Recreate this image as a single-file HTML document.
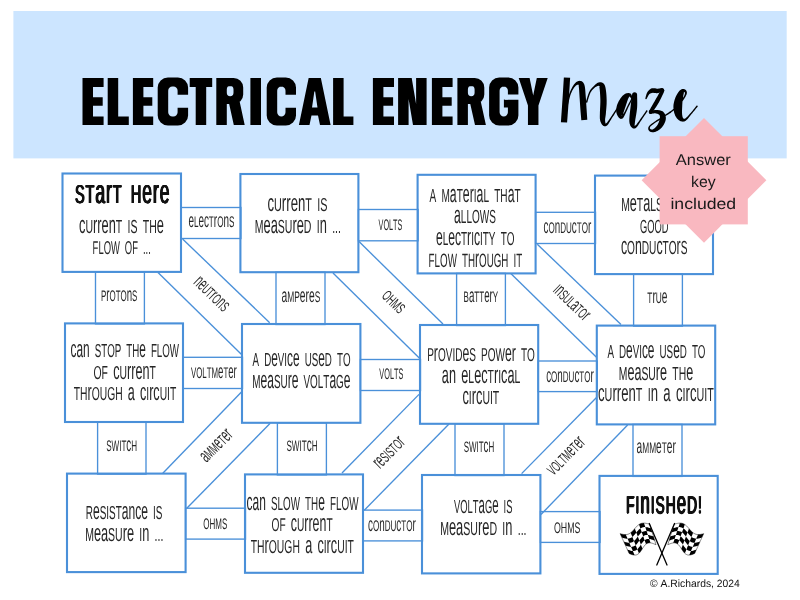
<!DOCTYPE html><html><head><meta charset="utf-8"><title>Electrical Energy Maze</title>
<style>html,body{margin:0;padding:0;background:#fff;}body{width:800px;height:600px;overflow:hidden;font-family:"Liberation Sans",sans-serif;}svg{display:block;font-family:"Liberation Sans",sans-serif;font-kerning:none;}text{font-kerning:none;white-space:pre;text-rendering:geometricPrecision;}</style></head><body>
<svg width="800" height="600" viewBox="0 0 800 600">
<rect x="0" y="0" width="800" height="600" fill="#fff"/>
<rect x="13.4" y="11" width="773.3" height="147.4" fill="#cce5ff"/>
<path fill="#000" d="M82.50,78.00 L103.60,78.00 L103.60,87.00 L93.00,87.00 L93.00,97.30 L102.70,97.30 L102.70,105.70 L93.00,105.70 L93.00,116.40 L103.60,116.40 L103.60,125.00 L82.50,125.00Z M107.70,78.00 L118.20,78.00 L118.20,116.40 L128.80,116.40 L128.80,125.00 L107.70,125.00Z M132.90,78.00 L153.20,78.00 L153.20,87.00 L143.40,87.00 L143.40,97.30 L152.30,97.30 L152.30,105.70 L143.40,105.70 L143.40,116.40 L153.20,116.40 L153.20,125.00 L132.90,125.00Z M167.90,77.40 H177.90 A10.2,10.2 0 0 1 188.10,87.60 V115.40 A10.2,10.2 0 0 1 177.90,125.60 H167.90 A10.2,10.2 0 0 1 157.70,115.40 V87.60 A10.2,10.2 0 0 1 167.90,77.40Z M172.40,86.60 A4.2,4.2 0 0 0 168.20,90.80 V112.20 A4.2,4.2 0 0 0 172.40,116.40 H173.40 A4.2,4.2 0 0 0 177.60,112.20 V90.80 A4.2,4.2 0 0 0 173.40,86.60Z M189.70,78.00 L212.20,78.00 L212.20,87.00 L206.20,87.00 L206.20,125.00 L195.70,125.00 L195.70,87.00 L189.70,87.00Z M216.30,78.00 H233.70 A9.5,9.5 0 0 1 243.20,87.50 V94.50 A9.5,9.5 0 0 1 233.70,104.00 H226.80 V125.00 H216.30Z M228.50,101.00 L239.10,99.00 L244.70,125.00 L233.80,125.00Z M250.40,78.00 L261.00,78.00 L261.00,125.00 L250.40,125.00Z M276.90,77.40 H285.80 A10.2,10.2 0 0 1 296.00,87.60 V115.40 A10.2,10.2 0 0 1 285.80,125.60 H276.90 A10.2,10.2 0 0 1 266.70,115.40 V87.60 A10.2,10.2 0 0 1 276.90,77.40Z M281.40,86.60 A4.2,4.2 0 0 0 277.20,90.80 V112.20 A4.2,4.2 0 0 0 281.40,116.40 H281.30 A4.2,4.2 0 0 0 285.50,112.20 V90.80 A4.2,4.2 0 0 0 281.30,86.60Z M298.90,125.00 L308.65,78.00 L320.85,78.00 L330.60,125.00 L320.00,125.00 L318.01,115.40 L311.49,115.40 L309.50,125.00Z M333.10,78.00 L343.60,78.00 L343.60,116.40 L353.40,116.40 L353.40,125.00 L333.10,125.00Z M372.90,78.00 L394.00,78.00 L394.00,87.00 L383.40,87.00 L383.40,97.30 L393.10,97.30 L393.10,105.70 L383.40,105.70 L383.40,116.40 L394.00,116.40 L394.00,125.00 L372.90,125.00Z M398.10,78.00 L411.70,78.00 L416.10,104.00 L416.10,78.00 L426.60,78.00 L426.60,125.00 L413.00,125.00 L408.60,99.00 L408.60,125.00 L398.10,125.00Z M431.90,78.00 L452.60,78.00 L452.60,87.00 L442.40,87.00 L442.40,97.30 L451.70,97.30 L451.70,105.70 L442.40,105.70 L442.40,116.40 L452.60,116.40 L452.60,125.00 L431.90,125.00Z M457.40,78.00 H474.80 A9.5,9.5 0 0 1 484.30,87.50 V94.50 A9.5,9.5 0 0 1 474.80,104.00 H467.90 V125.00 H457.40Z M469.60,101.00 L480.20,99.00 L485.90,125.00 L475.00,125.00Z M499.30,77.40 H508.20 A10.2,10.2 0 0 1 518.40,87.60 V115.40 A10.2,10.2 0 0 1 508.20,125.60 H499.30 A10.2,10.2 0 0 1 489.10,115.40 V87.60 A10.2,10.2 0 0 1 499.30,77.40Z M503.80,86.60 A4.2,4.2 0 0 0 499.60,90.80 V112.20 A4.2,4.2 0 0 0 503.80,116.40 H503.70 A4.2,4.2 0 0 0 507.90,112.20 V90.80 A4.2,4.2 0 0 0 503.70,86.60Z M503.90,99.40 L518.40,99.40 L518.40,107.40 L503.90,107.40Z M518.70,78.00 L529.60,78.00 L533.20,95.50 L536.80,78.00 L547.70,78.00 L538.45,105.50 L538.45,125.00 L527.95,125.00 L527.95,105.50Z"/>
<path fill="#cce5ff" d="M173.90,94.80 L189.10,94.80 L189.10,107.80 L173.90,107.80Z M230.20,86.00 H230.10 A3.4,3.4 0 0 1 233.50,89.40 V92.80 A3.4,3.4 0 0 1 230.10,96.20 H230.20 A3.4,3.4 0 0 1 226.80,92.80 V89.40 A3.4,3.4 0 0 1 230.20,86.00Z M282.35,94.80 L297.00,94.80 L297.00,107.80 L282.35,107.80Z M312.02,107.60 L314.35,91.50 L315.15,91.50 L317.48,107.60Z M471.30,86.00 H471.20 A3.4,3.4 0 0 1 474.60,89.40 V92.80 A3.4,3.4 0 0 1 471.20,96.20 H471.30 A3.4,3.4 0 0 1 467.90,92.80 V89.40 A3.4,3.4 0 0 1 471.30,86.00Z M504.75,94.60 L519.40,94.60 L519.40,99.80 L504.75,99.80Z"/>
<path fill="#000" d="M563.86,77.41 L563.77,78.74 L563.67,80.45 L563.54,82.48 L563.40,84.75 L563.25,87.21 L563.09,89.77 L562.93,92.38 L562.77,94.96 L562.61,97.45 L562.46,99.79 L562.30,102.12 L562.13,104.62 L561.96,107.20 L561.77,109.81 L561.60,112.37 L561.42,114.83 L561.26,117.10 L561.12,119.13 L561.00,120.84 L560.91,122.18 L567.09,122.62 L567.19,121.29 L567.32,119.58 L567.47,117.55 L567.64,115.28 L567.83,112.83 L568.02,110.26 L568.21,107.65 L568.40,105.06 L568.58,102.56 L568.74,100.21 L568.90,97.86 L569.06,95.36 L569.23,92.77 L569.39,90.16 L569.55,87.59 L569.70,85.14 L569.83,82.87 L569.96,80.84 L570.06,79.13 L570.14,77.79Z"/>
<path fill="#000" d="M567.93,105.17 L568.09,104.50 L568.28,103.62 L568.51,102.58 L568.77,101.42 L569.05,100.18 L569.35,98.90 L569.67,97.63 L570.01,96.40 L570.35,95.26 L570.71,94.26 L571.08,93.33 L571.47,92.40 L571.89,91.50 L572.33,90.62 L572.78,89.78 L573.24,88.98 L573.71,88.23 L574.17,87.55 L574.64,86.94 L575.09,86.41 L575.54,85.97 L575.99,85.60 L576.44,85.29 L576.88,85.04 L577.30,84.86 L577.70,84.74 L578.05,84.68 L578.35,84.67 L578.57,84.72 L578.74,84.80 L578.88,84.89 L578.98,85.01 L578.98,85.12 L578.91,85.21 L578.80,85.27 L578.70,85.33 L578.64,85.42 L578.63,85.58 L578.66,85.85 L578.72,86.23 L578.80,86.75 L578.88,87.45 L578.97,88.31 L579.05,89.28 L579.13,90.35 L579.20,91.49 L579.28,92.67 L579.35,93.87 L579.43,95.07 L579.51,96.24 L579.59,97.38 L579.67,98.53 L579.75,99.71 L579.82,100.90 L579.90,102.11 L579.98,103.33 L580.05,104.56 L580.14,105.78 L580.22,107.00 L580.31,108.22 L580.40,109.47 L580.51,110.81 L580.63,112.18 L580.74,113.57 L580.86,114.93 L580.97,116.23 L581.08,117.44 L581.17,118.51 L581.25,119.42 L581.31,120.13 L587.29,119.67 L587.24,118.96 L587.18,118.05 L587.11,116.98 L587.03,115.77 L586.94,114.47 L586.85,113.11 L586.76,111.72 L586.66,110.35 L586.58,109.02 L586.49,107.78 L586.42,106.59 L586.34,105.39 L586.27,104.17 L586.20,102.95 L586.13,101.73 L586.05,100.51 L585.97,99.29 L585.88,98.09 L585.79,96.91 L585.69,95.76 L585.59,94.62 L585.51,93.45 L585.42,92.26 L585.33,91.05 L585.23,89.86 L585.12,88.70 L584.97,87.58 L584.80,86.51 L584.57,85.50 L584.28,84.57 L583.92,83.74 L583.49,83.01 L582.98,82.35 L582.38,81.79 L581.70,81.34 L580.98,81.03 L580.28,80.88 L579.62,80.84 L579.03,80.90 L578.46,81.00 L577.88,81.18 L577.31,81.43 L576.78,81.74 L576.26,82.10 L575.77,82.51 L575.29,82.96 L574.83,83.45 L574.38,83.99 L573.94,84.57 L573.51,85.19 L573.09,85.85 L572.66,86.56 L572.22,87.33 L571.77,88.15 L571.33,89.01 L570.89,89.91 L570.47,90.84 L570.05,91.79 L569.66,92.76 L569.29,93.74 L568.94,94.81 L568.59,96.00 L568.25,97.26 L567.93,98.55 L567.62,99.85 L567.33,101.09 L567.06,102.26 L566.83,103.30 L566.63,104.16 L566.47,104.83Z"/><circle cx="567.20" cy="105.00" r="0.75" fill="#000"/>
<path fill="#000" d="M587.31,102.23 L587.51,101.61 L587.75,100.78 L588.03,99.81 L588.35,98.73 L588.69,97.58 L589.06,96.40 L589.45,95.25 L589.85,94.16 L590.26,93.17 L590.66,92.35 L591.09,91.63 L591.54,90.95 L592.03,90.31 L592.53,89.71 L593.04,89.15 L593.57,88.64 L594.09,88.16 L594.62,87.72 L595.14,87.33 L595.63,86.97 L596.12,86.67 L596.59,86.41 L597.06,86.20 L597.51,86.04 L597.93,85.93 L598.31,85.87 L598.65,85.87 L598.91,85.91 L599.10,85.99 L599.27,86.10 L599.51,86.22 L599.72,86.36 L599.79,86.49 L599.74,86.58 L599.60,86.63 L599.46,86.65 L599.38,86.71 L599.37,86.88 L599.41,87.21 L599.49,87.72 L599.59,88.45 L599.71,89.40 L599.82,90.52 L599.93,91.78 L600.03,93.13 L600.12,94.53 L600.20,95.96 L600.27,97.38 L600.32,98.77 L600.35,100.06 L600.36,101.32 L600.34,102.62 L600.30,103.96 L600.24,105.32 L600.18,106.68 L600.11,108.02 L600.04,109.33 L599.98,110.58 L599.93,111.77 L599.90,112.84 L599.89,113.77 L599.87,114.61 L599.85,115.39 L599.83,116.12 L599.82,116.82 L599.83,117.52 L599.85,118.20 L599.90,118.89 L599.99,119.60 L600.12,120.30 L600.29,120.98 L600.50,121.64 L600.74,122.27 L601.01,122.87 L601.30,123.43 L601.62,123.95 L601.95,124.44 L602.32,124.88 L602.71,125.29 L603.15,125.65 L603.64,125.94 L604.16,126.14 L604.71,126.24 L605.24,126.24 L605.75,126.14 L606.21,125.97 L606.63,125.75 L607.02,125.48 L607.38,125.17 L607.73,124.82 L608.07,124.44 L608.38,124.01 L608.68,123.56 L608.97,123.08 L609.27,122.57 L609.58,122.02 L609.92,121.43 L610.28,120.80 L610.68,120.13 L611.13,119.41 L611.66,118.58 L612.28,117.60 L612.98,116.52 L613.71,115.38 L614.46,114.22 L615.19,113.09 L615.87,112.03 L616.49,111.08 L617.00,110.28 L617.39,109.68 L616.21,108.92 L615.82,109.52 L615.31,110.31 L614.70,111.26 L614.01,112.33 L613.28,113.46 L612.53,114.61 L611.79,115.74 L611.08,116.81 L610.43,117.77 L609.87,118.59 L609.39,119.29 L608.94,119.95 L608.52,120.55 L608.14,121.10 L607.78,121.59 L607.44,122.03 L607.13,122.41 L606.83,122.73 L606.54,122.98 L606.27,123.18 L606.01,123.33 L605.77,123.43 L605.57,123.47 L605.42,123.47 L605.33,123.43 L605.30,123.37 L605.32,123.31 L605.37,123.26 L605.41,123.21 L605.45,123.15 L605.45,123.04 L605.41,122.85 L605.35,122.59 L605.29,122.27 L605.22,121.90 L605.17,121.49 L605.12,121.05 L605.09,120.60 L605.08,120.15 L605.08,119.70 L605.11,119.27 L605.15,118.83 L605.22,118.36 L605.30,117.84 L605.39,117.25 L605.49,116.59 L605.60,115.86 L605.71,115.04 L605.81,114.14 L605.90,113.16 L605.98,112.12 L606.08,110.99 L606.19,109.75 L606.30,108.44 L606.41,107.07 L606.51,105.66 L606.59,104.22 L606.64,102.77 L606.66,101.34 L606.65,99.94 L606.60,98.54 L606.54,97.09 L606.45,95.60 L606.34,94.09 L606.20,92.60 L606.05,91.15 L605.86,89.78 L605.65,88.49 L605.40,87.32 L605.11,86.28 L604.76,85.36 L604.34,84.54 L603.82,83.81 L603.21,83.18 L602.50,82.70 L601.76,82.39 L601.07,82.24 L600.49,82.22 L600.01,82.26 L599.53,82.30 L598.95,82.39 L598.34,82.55 L597.77,82.79 L597.24,83.07 L596.73,83.39 L596.24,83.75 L595.76,84.14 L595.29,84.55 L594.83,84.98 L594.37,85.43 L593.90,85.89 L593.41,86.38 L592.89,86.90 L592.37,87.45 L591.83,88.05 L591.30,88.68 L590.78,89.35 L590.27,90.07 L589.79,90.84 L589.34,91.65 L588.90,92.58 L588.48,93.63 L588.06,94.76 L587.67,95.95 L587.29,97.15 L586.93,98.31 L586.61,99.39 L586.32,100.36 L586.08,101.17 L585.89,101.77Z"/><circle cx="586.60" cy="102.00" r="0.75" fill="#000"/><circle cx="616.80" cy="109.30" r="0.70" fill="#000"/>
<path fill="#000" d="M632.60,98.04 L632.53,97.81 L632.44,97.48 L632.33,97.05 L632.19,96.56 L632.02,96.02 L631.82,95.47 L631.58,94.90 L631.24,94.34 L630.73,93.78 L630.00,93.35 L629.26,93.15 L628.60,93.06 L627.92,93.07 L627.24,93.16 L626.56,93.32 L625.87,93.56 L625.19,93.86 L624.51,94.25 L623.85,94.70 L623.20,95.24 L622.57,95.86 L621.95,96.54 L621.35,97.27 L620.77,98.05 L620.20,98.85 L619.66,99.68 L619.16,100.52 L618.68,101.35 L618.26,102.17 L617.89,102.97 L617.56,103.75 L617.26,104.54 L616.99,105.36 L616.75,106.19 L616.55,107.03 L616.38,107.88 L616.26,108.73 L616.19,109.59 L616.17,110.46 L616.20,111.33 L616.32,112.21 L616.51,113.07 L616.77,113.91 L617.08,114.71 L617.44,115.47 L617.82,116.17 L618.24,116.82 L618.69,117.42 L619.22,118.00 L619.93,118.54 L620.84,118.88 L621.74,118.85 L622.45,118.56 L622.94,118.16 L623.29,117.73 L623.59,117.28 L623.87,116.79 L624.15,116.27 L624.45,115.70 L624.77,115.07 L625.13,114.34 L625.53,113.49 L625.97,112.55 L626.43,111.54 L626.91,110.48 L627.40,109.41 L627.89,108.35 L628.36,107.33 L628.81,106.37 L629.23,105.51 L629.63,104.70 L630.05,103.88 L630.47,103.07 L630.89,102.29 L631.29,101.54 L631.68,100.83 L632.03,100.19 L632.34,99.61 L632.61,99.12 L632.82,98.73 L631.58,98.07 L631.37,98.46 L631.11,98.95 L630.81,99.53 L630.46,100.18 L630.08,100.89 L629.68,101.64 L629.26,102.43 L628.83,103.25 L628.40,104.07 L627.97,104.89 L627.54,105.76 L627.07,106.72 L626.59,107.75 L626.09,108.80 L625.59,109.87 L625.09,110.90 L624.59,111.87 L624.11,112.76 L623.66,113.52 L623.23,114.13 L622.83,114.62 L622.44,115.04 L622.08,115.37 L621.76,115.61 L621.48,115.73 L621.30,115.73 L621.28,115.60 L621.52,115.42 L621.97,115.34 L622.47,115.46 L622.78,115.56 L622.93,115.44 L623.02,115.14 L623.10,114.71 L623.19,114.21 L623.29,113.67 L623.41,113.11 L623.53,112.57 L623.66,112.08 L623.80,111.67 L623.93,111.27 L624.08,110.81 L624.25,110.31 L624.43,109.77 L624.63,109.20 L624.83,108.60 L625.05,107.98 L625.26,107.34 L625.49,106.69 L625.71,106.03 L625.94,105.34 L626.17,104.60 L626.42,103.82 L626.67,103.03 L626.92,102.25 L627.17,101.49 L627.41,100.78 L627.64,100.13 L627.84,99.59 L628.00,99.16 L628.15,98.79 L628.32,98.44 L628.49,98.11 L628.65,97.81 L628.82,97.54 L628.97,97.30 L629.10,97.10 L629.20,96.94 L629.26,96.80 L629.20,96.65 L629.10,96.48 L629.20,96.42 L629.45,96.53 L629.76,96.77 L630.08,97.10 L630.39,97.48 L630.69,97.86 L630.96,98.22 L631.20,98.54 L631.40,98.76Z"/><circle cx="632.00" cy="98.40" r="0.70" fill="#000"/><circle cx="632.20" cy="98.40" r="0.70" fill="#000"/>
<path fill="#000" d="M632.10,94.65 L632.01,95.41 L631.88,96.37 L631.73,97.51 L631.56,98.77 L631.38,100.14 L631.19,101.57 L631.01,103.03 L630.83,104.48 L630.66,105.88 L630.51,107.19 L630.37,108.49 L630.21,109.87 L630.04,111.31 L629.86,112.78 L629.70,114.27 L629.55,115.73 L629.43,117.14 L629.34,118.49 L629.29,119.75 L629.30,120.89 L629.37,121.90 L629.49,122.80 L629.65,123.63 L629.86,124.37 L630.11,125.04 L630.39,125.65 L630.70,126.19 L631.04,126.67 L631.38,127.08 L631.74,127.46 L632.17,127.83 L632.67,128.16 L633.22,128.39 L633.80,128.51 L634.38,128.50 L634.92,128.39 L635.42,128.20 L635.88,127.93 L636.30,127.62 L636.71,127.24 L637.10,126.81 L637.48,126.32 L637.85,125.79 L638.22,125.21 L638.60,124.60 L638.99,123.94 L639.41,123.25 L639.85,122.54 L640.31,121.79 L640.82,121.03 L641.39,120.17 L642.06,119.18 L642.80,118.10 L643.57,116.97 L644.34,115.83 L645.10,114.73 L645.81,113.69 L646.44,112.76 L646.98,111.98 L647.38,111.40 L646.22,110.60 L645.82,111.19 L645.28,111.97 L644.65,112.90 L643.94,113.93 L643.18,115.04 L642.40,116.17 L641.63,117.29 L640.88,118.36 L640.19,119.33 L639.58,120.17 L639.04,120.93 L638.52,121.66 L638.03,122.35 L637.57,123.00 L637.13,123.60 L636.71,124.15 L636.32,124.63 L635.94,125.03 L635.60,125.34 L635.29,125.56 L635.01,125.70 L634.77,125.78 L634.58,125.80 L634.47,125.76 L634.42,125.70 L634.45,125.63 L634.51,125.57 L634.58,125.52 L634.63,125.46 L634.66,125.34 L634.65,125.15 L634.65,124.92 L634.67,124.67 L634.70,124.39 L634.74,124.04 L634.79,123.63 L634.85,123.15 L634.92,122.57 L635.00,121.88 L635.10,121.11 L635.22,120.20 L635.39,119.12 L635.60,117.90 L635.83,116.56 L636.08,115.15 L636.32,113.68 L636.56,112.18 L636.77,110.69 L636.95,109.22 L637.09,107.81 L637.17,106.40 L637.22,104.93 L637.24,103.43 L637.24,101.93 L637.22,100.47 L637.19,99.08 L637.16,97.80 L637.13,96.65 L637.11,95.69 L637.10,94.95Z"/><circle cx="634.60" cy="94.80" r="2.50" fill="#000"/><circle cx="646.80" cy="111.00" r="0.70" fill="#000"/>
<path fill="#000" d="M646.65,98.86 L646.83,98.53 L647.04,98.09 L647.29,97.58 L647.57,97.02 L647.88,96.42 L648.20,95.83 L648.53,95.27 L648.87,94.76 L649.20,94.35 L649.51,94.05 L649.83,93.81 L650.18,93.59 L650.54,93.41 L650.90,93.26 L651.26,93.14 L651.61,93.05 L651.96,92.97 L652.30,92.92 L652.63,92.87 L652.91,92.84 L653.11,92.84 L653.36,92.85 L653.69,92.88 L654.11,92.92 L654.60,92.98 L655.15,93.05 L655.75,93.11 L656.40,93.15 L657.09,93.15 L657.80,93.09 L658.47,92.96 L659.10,92.79 L659.71,92.58 L660.28,92.35 L660.82,92.12 L661.33,91.89 L661.78,91.67 L662.16,91.48 L662.47,91.33 L662.71,91.22 L661.69,87.98 L661.39,88.04 L661.00,88.13 L660.58,88.22 L660.11,88.32 L659.63,88.42 L659.13,88.51 L658.63,88.59 L658.16,88.66 L657.74,88.70 L657.40,88.71 L657.11,88.69 L656.76,88.64 L656.34,88.56 L655.86,88.47 L655.32,88.36 L654.73,88.26 L654.09,88.18 L653.39,88.15 L652.64,88.20 L651.89,88.36 L651.26,88.59 L650.70,88.86 L650.16,89.18 L649.66,89.55 L649.19,89.95 L648.76,90.38 L648.35,90.84 L647.98,91.32 L647.63,91.81 L647.29,92.35 L646.97,92.95 L646.69,93.61 L646.44,94.30 L646.22,95.00 L646.02,95.70 L645.85,96.37 L645.69,97.00 L645.56,97.55 L645.44,98.00 L645.35,98.34Z"/><circle cx="646.00" cy="98.60" r="0.70" fill="#000"/><circle cx="662.20" cy="89.60" r="1.70" fill="#000"/>
<path fill="#000" d="M661.00,89.78 L660.64,90.42 L660.19,91.24 L659.66,92.20 L659.06,93.28 L658.42,94.44 L657.75,95.66 L657.07,96.88 L656.39,98.10 L655.74,99.26 L655.13,100.34 L654.52,101.42 L653.85,102.58 L653.16,103.79 L652.45,105.01 L651.76,106.22 L651.09,107.37 L650.47,108.44 L649.91,109.40 L649.44,110.21 L649.07,110.85 L652.13,112.75 L652.53,112.15 L653.05,111.38 L653.68,110.47 L654.39,109.45 L655.14,108.33 L655.93,107.17 L656.72,105.97 L657.49,104.76 L658.21,103.59 L658.87,102.46 L659.50,101.31 L660.13,100.09 L660.76,98.81 L661.38,97.52 L661.98,96.26 L662.54,95.04 L663.06,93.91 L663.51,92.91 L663.90,92.07 L664.20,91.42Z"/><circle cx="662.60" cy="90.60" r="1.80" fill="#000"/><circle cx="650.60" cy="111.80" r="1.80" fill="#000"/>
<path fill="#000" d="M650.64,113.88 L651.00,113.83 L651.46,113.75 L651.98,113.66 L652.54,113.55 L653.13,113.46 L653.73,113.38 L654.33,113.32 L654.90,113.30 L655.40,113.32 L655.85,113.39 L656.33,113.51 L656.86,113.66 L657.38,113.84 L657.88,114.04 L658.35,114.26 L658.77,114.50 L659.11,114.74 L659.37,114.97 L659.52,115.17 L659.59,115.33 L659.66,115.51 L659.74,115.76 L659.80,116.04 L659.86,116.35 L659.90,116.69 L659.92,117.04 L659.92,117.42 L659.91,117.80 L659.88,118.18 L659.83,118.57 L659.76,119.00 L659.64,119.54 L659.48,120.15 L659.28,120.81 L659.05,121.50 L658.79,122.20 L658.50,122.89 L658.21,123.54 L657.90,124.15 L657.61,124.69 L657.30,125.19 L656.94,125.71 L656.52,126.24 L656.08,126.76 L655.61,127.26 L655.13,127.74 L654.66,128.17 L654.21,128.55 L653.79,128.87 L653.44,129.10 L653.14,129.26 L652.84,129.38 L652.51,129.45 L652.17,129.49 L651.83,129.48 L651.50,129.45 L651.19,129.38 L650.91,129.31 L650.68,129.22 L650.51,129.16 L650.38,129.10 L650.25,129.00 L650.13,128.86 L650.01,128.68 L649.92,128.47 L649.86,128.23 L649.83,127.97 L649.84,127.70 L649.90,127.42 L650.01,127.15 L650.18,126.86 L650.42,126.55 L650.72,126.23 L651.08,125.90 L651.49,125.56 L651.95,125.20 L652.46,124.83 L653.01,124.43 L653.59,124.01 L654.21,123.57 L654.87,123.10 L655.59,122.60 L656.37,122.07 L657.20,121.53 L658.06,120.98 L658.93,120.41 L659.81,119.84 L660.69,119.28 L661.55,118.73 L662.38,118.19 L663.23,117.63 L664.12,117.05 L665.05,116.45 L665.98,115.84 L666.89,115.25 L667.77,114.68 L668.58,114.16 L669.30,113.69 L669.91,113.30 L670.38,112.99 L669.62,111.81 L669.14,112.12 L668.53,112.52 L667.81,112.98 L667.00,113.51 L666.13,114.08 L665.22,114.67 L664.29,115.27 L663.36,115.88 L662.46,116.46 L661.62,117.01 L660.79,117.55 L659.93,118.10 L659.06,118.67 L658.17,119.23 L657.29,119.80 L656.43,120.36 L655.60,120.91 L654.81,121.44 L654.07,121.95 L653.39,122.43 L652.77,122.88 L652.19,123.31 L651.64,123.73 L651.12,124.12 L650.64,124.51 L650.19,124.90 L649.78,125.28 L649.41,125.66 L649.08,126.05 L648.79,126.45 L648.56,126.89 L648.38,127.34 L648.26,127.80 L648.21,128.27 L648.20,128.73 L648.26,129.19 L648.37,129.64 L648.55,130.07 L648.79,130.48 L649.09,130.84 L649.44,131.15 L649.84,131.43 L650.29,131.67 L650.78,131.89 L651.32,132.07 L651.90,132.20 L652.52,132.29 L653.18,132.30 L653.87,132.24 L654.56,132.10 L655.24,131.88 L655.93,131.62 L656.64,131.30 L657.37,130.93 L658.11,130.51 L658.85,130.04 L659.58,129.53 L660.29,128.97 L660.96,128.37 L661.59,127.71 L662.17,127.02 L662.73,126.28 L663.26,125.49 L663.76,124.67 L664.23,123.82 L664.65,122.95 L665.03,122.08 L665.35,121.20 L665.60,120.31 L665.77,119.43 L665.85,118.56 L665.85,117.70 L665.76,116.86 L665.61,116.04 L665.38,115.25 L665.08,114.49 L664.71,113.77 L664.28,113.10 L663.79,112.47 L663.21,111.87 L662.52,111.35 L661.79,110.94 L661.05,110.64 L660.31,110.43 L659.57,110.28 L658.85,110.17 L658.14,110.10 L657.46,110.06 L656.80,110.03 L656.15,110.01 L655.44,110.01 L654.71,110.07 L653.99,110.16 L653.28,110.28 L652.60,110.40 L651.96,110.54 L651.37,110.66 L650.87,110.77 L650.47,110.86 L650.16,110.92Z"/><circle cx="650.40" cy="112.40" r="1.50" fill="#000"/><circle cx="670.00" cy="112.40" r="0.70" fill="#000"/>
<path fill="#000" d="M670.45,113.04 L670.94,112.63 L671.59,112.10 L672.38,111.48 L673.25,110.77 L674.19,110.01 L675.16,109.21 L676.13,108.38 L677.06,107.56 L677.93,106.75 L678.71,105.98 L679.41,105.22 L680.08,104.44 L680.74,103.64 L681.36,102.83 L681.96,102.03 L682.52,101.24 L683.06,100.47 L683.56,99.74 L684.02,99.04 L684.44,98.40 L684.82,97.79 L685.17,97.21 L685.49,96.65 L685.78,96.12 L686.04,95.61 L686.26,95.12 L686.45,94.65 L686.62,94.19 L686.75,93.74 L686.85,93.29 L686.90,92.82 L686.88,92.34 L686.81,91.89 L686.68,91.45 L686.51,91.05 L686.30,90.68 L686.06,90.33 L685.77,90.01 L685.45,89.73 L685.08,89.49 L684.71,89.30 L684.31,89.15 L683.87,89.04 L683.38,88.98 L682.85,88.98 L682.28,89.07 L681.69,89.24 L681.10,89.52 L680.53,89.89 L679.99,90.35 L679.51,90.83 L679.04,91.36 L678.57,91.93 L678.11,92.54 L677.66,93.20 L677.21,93.91 L676.78,94.64 L676.37,95.41 L675.99,96.20 L675.64,97.00 L675.31,97.82 L675.00,98.68 L674.70,99.57 L674.42,100.49 L674.16,101.44 L673.93,102.41 L673.73,103.39 L673.57,104.37 L673.46,105.36 L673.40,106.33 L673.40,107.29 L673.44,108.25 L673.53,109.21 L673.66,110.16 L673.83,111.09 L674.03,112.01 L674.26,112.90 L674.53,113.76 L674.82,114.59 L675.14,115.38 L675.49,116.13 L675.89,116.85 L676.32,117.52 L676.79,118.15 L677.28,118.74 L677.80,119.28 L678.33,119.77 L678.89,120.22 L679.47,120.61 L680.04,120.93 L680.59,121.17 L681.13,121.36 L681.71,121.52 L682.32,121.62 L682.95,121.65 L683.58,121.60 L684.21,121.46 L684.82,121.23 L685.40,120.93 L685.97,120.54 L686.53,120.07 L687.10,119.51 L687.66,118.90 L688.23,118.23 L688.81,117.52 L689.40,116.78 L689.99,116.03 L690.58,115.28 L691.16,114.55 L691.73,113.86 L692.33,113.14 L692.97,112.36 L693.64,111.54 L694.32,110.71 L694.99,109.89 L695.63,109.10 L696.22,108.37 L696.75,107.71 L697.20,107.16 L697.54,106.74 L696.46,105.86 L696.11,106.29 L695.67,106.85 L695.15,107.51 L694.57,108.25 L693.94,109.04 L693.28,109.86 L692.60,110.69 L691.93,111.49 L691.28,112.25 L690.67,112.94 L690.06,113.62 L689.44,114.33 L688.81,115.04 L688.19,115.75 L687.56,116.42 L686.95,117.05 L686.36,117.61 L685.79,118.08 L685.28,118.43 L684.83,118.66 L684.44,118.77 L684.11,118.79 L683.85,118.75 L683.64,118.65 L683.48,118.52 L683.33,118.37 L683.20,118.18 L683.06,117.97 L682.90,117.73 L682.76,117.47 L682.66,117.21 L682.57,116.92 L682.48,116.59 L682.40,116.21 L682.32,115.80 L682.25,115.35 L682.19,114.89 L682.14,114.41 L682.10,113.92 L682.06,113.42 L682.04,112.89 L682.03,112.30 L682.03,111.65 L682.03,110.97 L682.05,110.27 L682.07,109.54 L682.10,108.81 L682.13,108.08 L682.17,107.36 L682.20,106.67 L682.23,105.97 L682.26,105.23 L682.30,104.46 L682.35,103.66 L682.40,102.85 L682.46,102.03 L682.53,101.23 L682.60,100.45 L682.68,99.70 L682.76,99.00 L682.85,98.33 L682.94,97.65 L683.05,96.97 L683.16,96.30 L683.28,95.66 L683.40,95.05 L683.52,94.49 L683.64,93.99 L683.74,93.56 L683.81,93.25 L683.83,93.05 L683.82,92.91 L683.81,92.78 L683.81,92.66 L683.82,92.54 L683.86,92.44 L683.91,92.34 L683.98,92.25 L684.06,92.18 L684.12,92.11 L684.16,92.06 L684.23,92.04 L684.34,92.06 L684.47,92.12 L684.59,92.22 L684.70,92.35 L684.80,92.51 L684.88,92.68 L684.93,92.88 L684.95,93.11 L684.94,93.40 L684.89,93.74 L684.81,94.11 L684.68,94.51 L684.53,94.95 L684.33,95.42 L684.09,95.92 L683.82,96.45 L683.51,97.01 L683.16,97.60 L682.77,98.24 L682.34,98.94 L681.86,99.66 L681.35,100.42 L680.80,101.19 L680.23,101.98 L679.63,102.76 L679.00,103.54 L678.36,104.29 L677.69,105.02 L676.96,105.75 L676.13,106.53 L675.22,107.33 L674.27,108.14 L673.31,108.93 L672.38,109.69 L671.50,110.39 L670.72,111.01 L670.06,111.54 L669.55,111.96Z"/><circle cx="670.00" cy="112.50" r="0.70" fill="#000"/><circle cx="697.00" cy="106.30" r="0.70" fill="#000"/>
<g stroke="#4a90d9" stroke-width="1.35" fill="none">
<line x1="182.6" y1="239" x2="269.7" y2="322.7"/>
<line x1="158" y1="272.4" x2="241.8" y2="354.8"/>
<line x1="359" y1="241.6" x2="443" y2="324"/>
<line x1="333" y1="273" x2="419.5" y2="358.3"/>
<line x1="537.3" y1="244.3" x2="621" y2="324.4"/>
<line x1="510.8" y1="273.6" x2="597" y2="357.8"/>
<line x1="241.7" y1="391.8" x2="162.8" y2="473.3"/>
<line x1="270.2" y1="423.3" x2="186.8" y2="508.2"/>
<line x1="419" y1="394.4" x2="342" y2="473"/>
<line x1="449" y1="424" x2="364.3" y2="510.2"/>
<line x1="597" y1="397" x2="521.6" y2="473.6"/>
<line x1="627.6" y1="425" x2="541" y2="514.5"/>
</g>
<g stroke="#4a90d9" stroke-width="2.1" fill="#fff">
<rect x="62.50" y="173.50" width="118.50" height="98.40"/>
<rect x="240.40" y="174.00" width="118.00" height="98.20"/>
<rect x="417.60" y="174.80" width="118.00" height="98.60"/>
<rect x="595.00" y="175.60" width="118.00" height="98.50"/>
<rect x="65.00" y="323.40" width="118.00" height="98.60"/>
<rect x="242.00" y="324.00" width="118.40" height="98.80"/>
<rect x="420.00" y="325.00" width="118.20" height="98.80"/>
<rect x="596.80" y="325.60" width="118.40" height="98.80"/>
<rect x="67.00" y="473.60" width="118.60" height="98.50"/>
<rect x="245.00" y="474.40" width="118.00" height="98.40"/>
<rect x="422.00" y="475.00" width="118.40" height="98.40"/>
<rect x="599.50" y="475.90" width="118.20" height="98.00"/>
</g>
<g stroke="#4a90d9" stroke-width="1.35" fill="none">
<rect x="181.00" y="207.50" width="59.90" height="31.00"/>
<rect x="358.40" y="209.50" width="59.70" height="31.30"/>
<rect x="535.60" y="212.30" width="59.90" height="31.20"/>
<rect x="183.00" y="357.30" width="59.50" height="31.20"/>
<rect x="360.40" y="359.50" width="60.10" height="31.00"/>
<rect x="538.20" y="361.00" width="59.10" height="30.60"/>
<rect x="185.60" y="508.20" width="59.90" height="30.90"/>
<rect x="363.00" y="510.10" width="59.50" height="30.80"/>
<rect x="540.40" y="511.60" width="59.60" height="30.80"/>
<rect x="95.50" y="271.90" width="48.90" height="52.00"/>
<rect x="276.00" y="272.20" width="49.00" height="52.30"/>
<rect x="456.60" y="273.40" width="48.80" height="52.10"/>
<rect x="633.60" y="274.10" width="48.80" height="52.00"/>
<rect x="97.60" y="422.00" width="48.40" height="52.10"/>
<rect x="277.40" y="422.80" width="49.00" height="52.10"/>
<rect x="455.00" y="423.80" width="49.00" height="51.70"/>
<rect x="633.00" y="424.40" width="49.00" height="52.00"/>
</g>
<g style="will-change:transform;filter:grayscale(1)">
<g transform="translate(-0.55 0)"><g><text transform="translate(75.10 202.90) scale(0.5522 1.0000)" font-size="25.87" fill="#111" letter-spacing="1.811">ST</text><text transform="translate(95.36 202.90) scale(0.6737 1.3022)" font-size="25.87" fill="#111" letter-spacing="1.484">ar</text><text transform="translate(112.86 202.90) scale(0.5522 1.0000)" font-size="25.87" fill="#111" word-spacing="6.082" letter-spacing="1.811">T H</text><text transform="translate(142.23 202.90) scale(0.6737 1.3022)" font-size="25.87" fill="#111" letter-spacing="1.484">ere</text></g></g><g transform="translate(0.55 0)"><g><text transform="translate(75.10 202.90) scale(0.5522 1.0000)" font-size="25.87" fill="#111" letter-spacing="1.811">ST</text><text transform="translate(95.36 202.90) scale(0.6737 1.3022)" font-size="25.87" fill="#111" letter-spacing="1.484">ar</text><text transform="translate(112.86 202.90) scale(0.5522 1.0000)" font-size="25.87" fill="#111" word-spacing="6.082" letter-spacing="1.811">T H</text><text transform="translate(142.23 202.90) scale(0.6737 1.3022)" font-size="25.87" fill="#111" letter-spacing="1.484">ere</text></g></g><g transform="translate(0 -0.3)"><g><text transform="translate(75.10 202.90) scale(0.5522 1.0000)" font-size="25.87" fill="#111" letter-spacing="1.811">ST</text><text transform="translate(95.36 202.90) scale(0.6737 1.3022)" font-size="25.87" fill="#111" letter-spacing="1.484">ar</text><text transform="translate(112.86 202.90) scale(0.5522 1.0000)" font-size="25.87" fill="#111" word-spacing="6.082" letter-spacing="1.811">T H</text><text transform="translate(142.23 202.90) scale(0.6737 1.3022)" font-size="25.87" fill="#111" letter-spacing="1.484">ere</text></g></g><g transform="translate(0 0.3)"><g><text transform="translate(75.10 202.90) scale(0.5522 1.0000)" font-size="25.87" fill="#111" letter-spacing="1.811">ST</text><text transform="translate(95.36 202.90) scale(0.6737 1.3022)" font-size="25.87" fill="#111" letter-spacing="1.484">ar</text><text transform="translate(112.86 202.90) scale(0.5522 1.0000)" font-size="25.87" fill="#111" word-spacing="6.082" letter-spacing="1.811">T H</text><text transform="translate(142.23 202.90) scale(0.6737 1.3022)" font-size="25.87" fill="#111" letter-spacing="1.484">ere</text></g></g><g transform="translate(0 0)"><g><text transform="translate(75.10 202.90) scale(0.5522 1.0000)" font-size="25.87" fill="#111" letter-spacing="1.811">ST</text><text transform="translate(95.36 202.90) scale(0.6737 1.3022)" font-size="25.87" fill="#111" letter-spacing="1.484">ar</text><text transform="translate(112.86 202.90) scale(0.5522 1.0000)" font-size="25.87" fill="#111" word-spacing="6.082" letter-spacing="1.811">T H</text><text transform="translate(142.23 202.90) scale(0.6737 1.3022)" font-size="25.87" fill="#111" letter-spacing="1.484">ere</text></g></g>
<g><text transform="translate(79.06 232.90) scale(0.6789 1.3022)" font-size="18.90" fill="#262626">c</text><text transform="translate(85.47 232.90) scale(0.5565 1.0000)" font-size="18.90" fill="#262626">U</text><text transform="translate(93.06 232.90) scale(0.6789 1.3022)" font-size="18.90" fill="#262626">rren</text><text transform="translate(115.87 232.90) scale(0.5565 1.0000)" font-size="18.90" fill="#262626" word-spacing="4.265">T IS TH</text><text transform="translate(156.84 232.90) scale(0.6789 1.3022)" font-size="18.90" fill="#262626">e</text></g>
<g><text transform="translate(92.62 254.40) scale(0.5081 1.0000)" font-size="18.60" fill="#262626" word-spacing="4.599">FLOW OF ...</text></g>
<g><text transform="translate(267.44 211.00) scale(0.7094 1.3022)" font-size="18.60" fill="#262626">c</text><text transform="translate(274.04 211.00) scale(0.5815 1.0000)" font-size="18.60" fill="#262626">U</text><text transform="translate(281.85 211.00) scale(0.7094 1.3022)" font-size="18.60" fill="#262626">rren</text><text transform="translate(305.32 211.00) scale(0.5815 1.0000)" font-size="18.60" fill="#262626" word-spacing="4.018">T IS</text></g>
<g><text transform="translate(254.74 233.00) scale(0.5532 1.0000)" font-size="19.04" fill="#262626">M</text><text transform="translate(263.51 233.00) scale(0.6749 1.3022)" font-size="19.04" fill="#262626">ea</text><text transform="translate(277.81 233.00) scale(0.5532 1.0000)" font-size="19.04" fill="#262626">SU</text><text transform="translate(292.44 233.00) scale(0.6749 1.3022)" font-size="19.04" fill="#262626">re</text><text transform="translate(303.87 233.00) scale(0.5532 1.0000)" font-size="19.04" fill="#262626" word-spacing="4.322">D I</text><text transform="translate(319.72 233.00) scale(0.6749 1.3022)" font-size="19.04" fill="#262626">n</text><text transform="translate(326.86 233.00) scale(0.5532 1.0000)" font-size="19.04" fill="#262626" word-spacing="4.322"> ...</text></g>
<g><text transform="translate(429.58 201.70) scale(0.5333 1.0000)" font-size="18.90" fill="#262626" word-spacing="4.450">A M</text><text transform="translate(449.87 201.70) scale(0.6506 1.3022)" font-size="18.90" fill="#262626">a</text><text transform="translate(456.71 201.70) scale(0.5333 1.0000)" font-size="18.90" fill="#262626">T</text><text transform="translate(462.86 201.70) scale(0.6506 1.3022)" font-size="18.90" fill="#262626">er</text><text transform="translate(473.79 201.70) scale(0.5333 1.0000)" font-size="18.90" fill="#262626">I</text><text transform="translate(476.59 201.70) scale(0.6506 1.3022)" font-size="18.90" fill="#262626">a</text><text transform="translate(483.43 201.70) scale(0.5333 1.0000)" font-size="18.90" fill="#262626" word-spacing="4.450">L TH</text><text transform="translate(507.64 201.70) scale(0.6506 1.3022)" font-size="18.90" fill="#262626">a</text><text transform="translate(514.48 201.70) scale(0.5333 1.0000)" font-size="18.90" fill="#262626">T</text></g>
<g><text transform="translate(454.08 223.40) scale(0.6404 1.3022)" font-size="19.04" fill="#262626">a</text><text transform="translate(460.86 223.40) scale(0.5250 1.0000)" font-size="19.04" fill="#262626">LLOWS</text></g>
<g><text transform="translate(435.88 244.60) scale(0.6484 1.3022)" font-size="18.75" fill="#262626">e</text><text transform="translate(442.65 244.60) scale(0.5315 1.0000)" font-size="18.75" fill="#262626">L</text><text transform="translate(448.19 244.60) scale(0.6484 1.3022)" font-size="18.75" fill="#262626">ec</text><text transform="translate(461.03 244.60) scale(0.5315 1.0000)" font-size="18.75" fill="#262626">T</text><text transform="translate(467.12 244.60) scale(0.6484 1.3022)" font-size="18.75" fill="#262626">r</text><text transform="translate(471.16 244.60) scale(0.5315 1.0000)" font-size="18.75" fill="#262626">I</text><text transform="translate(473.93 244.60) scale(0.6484 1.3022)" font-size="18.75" fill="#262626">c</text><text transform="translate(480.01 244.60) scale(0.5315 1.0000)" font-size="18.75" fill="#262626" word-spacing="4.431">ITY TO</text></g>
<g><text transform="translate(428.60 266.90) scale(0.5062 1.0000)" font-size="19.33" fill="#262626" word-spacing="4.796">FLOW TH</text><text transform="translate(475.05 266.90) scale(0.6175 1.3022)" font-size="19.33" fill="#262626">r</text><text transform="translate(479.03 266.90) scale(0.5062 1.0000)" font-size="19.33" fill="#262626" word-spacing="4.796">OUGH IT</text></g>
<g><text transform="translate(621.15 211.00) scale(0.5545 1.0000)" font-size="18.75" fill="#262626">M</text><text transform="translate(629.81 211.00) scale(0.6765 1.3022)" font-size="18.75" fill="#262626">e</text><text transform="translate(636.86 211.00) scale(0.5545 1.0000)" font-size="18.75" fill="#262626">T</text><text transform="translate(643.21 211.00) scale(0.6765 1.3022)" font-size="18.75" fill="#262626">a</text><text transform="translate(650.27 211.00) scale(0.5545 1.0000)" font-size="18.75" fill="#262626" word-spacing="4.246">LS </text><text transform="translate(668.23 211.00) scale(0.6765 1.3022)" font-size="18.75" fill="#262626">are</text></g>
<g><text transform="translate(639.93 233.00) scale(0.4901 1.0000)" font-size="19.04" fill="#262626">GOOD</text></g>
<g><text transform="translate(620.88 254.40) scale(0.6531 1.3022)" font-size="18.90" fill="#262626">c</text><text transform="translate(627.05 254.40) scale(0.5354 1.0000)" font-size="18.90" fill="#262626">O</text><text transform="translate(634.91 254.40) scale(0.6531 1.3022)" font-size="18.90" fill="#262626">n</text><text transform="translate(641.78 254.40) scale(0.5354 1.0000)" font-size="18.90" fill="#262626">DU</text><text transform="translate(656.39 254.40) scale(0.6531 1.3022)" font-size="18.90" fill="#262626">c</text><text transform="translate(662.56 254.40) scale(0.5354 1.0000)" font-size="18.90" fill="#262626">TO</text><text transform="translate(676.61 254.40) scale(0.6531 1.3022)" font-size="18.90" fill="#262626">r</text><text transform="translate(680.72 254.40) scale(0.5354 1.0000)" font-size="18.90" fill="#262626">S</text></g>
<g><text transform="translate(70.50 357.00) scale(0.6334 1.3022)" font-size="18.75" fill="#262626">can</text><text transform="translate(89.64 357.00) scale(0.5192 1.0000)" font-size="18.75" fill="#262626" word-spacing="4.535"> STOP TH</text><text transform="translate(139.25 357.00) scale(0.6334 1.3022)" font-size="18.75" fill="#262626">e</text><text transform="translate(145.85 357.00) scale(0.5192 1.0000)" font-size="18.75" fill="#262626" word-spacing="4.535"> FLOW</text></g>
<g><text transform="translate(93.51 378.60) scale(0.5535 1.0000)" font-size="18.75" fill="#262626" word-spacing="4.254">OF </text><text transform="translate(113.16 378.60) scale(0.6752 1.3022)" font-size="18.75" fill="#262626">c</text><text transform="translate(119.49 378.60) scale(0.5535 1.0000)" font-size="18.75" fill="#262626">U</text><text transform="translate(126.98 378.60) scale(0.6752 1.3022)" font-size="18.75" fill="#262626">rren</text><text transform="translate(149.50 378.60) scale(0.5535 1.0000)" font-size="18.75" fill="#262626">T</text></g>
<g><text transform="translate(73.77 400.00) scale(0.5495 1.0000)" font-size="18.75" fill="#262626">TH</text><text transform="translate(87.50 400.00) scale(0.6704 1.3022)" font-size="18.75" fill="#262626">r</text><text transform="translate(91.69 400.00) scale(0.5495 1.0000)" font-size="18.75" fill="#262626" word-spacing="4.285">OUGH </text><text transform="translate(127.81 400.00) scale(0.6704 1.3022)" font-size="18.75" fill="#262626">a</text><text transform="translate(134.80 400.00) scale(0.5495 1.0000)" font-size="18.75" fill="#262626" word-spacing="4.285"> </text><text transform="translate(140.02 400.00) scale(0.6704 1.3022)" font-size="18.75" fill="#262626">c</text><text transform="translate(146.31 400.00) scale(0.5495 1.0000)" font-size="18.75" fill="#262626">I</text><text transform="translate(149.17 400.00) scale(0.6704 1.3022)" font-size="18.75" fill="#262626">rc</text><text transform="translate(159.64 400.00) scale(0.5495 1.0000)" font-size="18.75" fill="#262626">UIT</text></g>
<g><text transform="translate(252.58 366.10) scale(0.5201 1.0000)" font-size="18.75" fill="#262626" word-spacing="4.527">A D</text><text transform="translate(271.19 366.10) scale(0.6345 1.3022)" font-size="18.75" fill="#262626">e</text><text transform="translate(277.81 366.10) scale(0.5201 1.0000)" font-size="18.75" fill="#262626">VI</text><text transform="translate(287.02 366.10) scale(0.6345 1.3022)" font-size="18.75" fill="#262626">ce</text><text transform="translate(299.59 366.10) scale(0.5201 1.0000)" font-size="18.75" fill="#262626" word-spacing="4.527"> US</text><text transform="translate(318.20 366.10) scale(0.6345 1.3022)" font-size="18.75" fill="#262626">e</text><text transform="translate(324.82 366.10) scale(0.5201 1.0000)" font-size="18.75" fill="#262626" word-spacing="4.527">D TO</text></g>
<g><text transform="translate(252.19 388.10) scale(0.5243 1.0000)" font-size="18.90" fill="#262626">M</text><text transform="translate(260.44 388.10) scale(0.6396 1.3022)" font-size="18.90" fill="#262626">ea</text><text transform="translate(273.88 388.10) scale(0.5243 1.0000)" font-size="18.90" fill="#262626">SU</text><text transform="translate(287.64 388.10) scale(0.6396 1.3022)" font-size="18.90" fill="#262626">re</text><text transform="translate(298.39 388.10) scale(0.5243 1.0000)" font-size="18.90" fill="#262626" word-spacing="4.526"> VOLT</text><text transform="translate(329.39 388.10) scale(0.6396 1.3022)" font-size="18.90" fill="#262626">a</text><text transform="translate(336.11 388.10) scale(0.5243 1.0000)" font-size="18.90" fill="#262626">G</text><text transform="translate(343.82 388.10) scale(0.6396 1.3022)" font-size="18.90" fill="#262626">e</text></g>
<g><text transform="translate(427.18 361.00) scale(0.5386 1.0000)" font-size="18.60" fill="#262626">P</text><text transform="translate(433.86 361.00) scale(0.6571 1.3022)" font-size="18.60" fill="#262626">r</text><text transform="translate(437.93 361.00) scale(0.5386 1.0000)" font-size="18.60" fill="#262626">OVID</text><text transform="translate(462.43 361.00) scale(0.6571 1.3022)" font-size="18.60" fill="#262626">e</text><text transform="translate(469.23 361.00) scale(0.5386 1.0000)" font-size="18.60" fill="#262626" word-spacing="4.338">S POW</text><text transform="translate(504.97 361.00) scale(0.6571 1.3022)" font-size="18.60" fill="#262626">er</text><text transform="translate(515.84 361.00) scale(0.5386 1.0000)" font-size="18.60" fill="#262626" word-spacing="4.338"> TO</text></g>
<g><text transform="translate(441.86 383.00) scale(0.6681 1.3022)" font-size="19.04" fill="#262626">an</text><text transform="translate(456.01 383.00) scale(0.5476 1.0000)" font-size="19.04" fill="#262626" word-spacing="4.367"> </text><text transform="translate(461.30 383.00) scale(0.6681 1.3022)" font-size="19.04" fill="#262626">e</text><text transform="translate(468.37 383.00) scale(0.5476 1.0000)" font-size="19.04" fill="#262626">L</text><text transform="translate(474.17 383.00) scale(0.6681 1.3022)" font-size="19.04" fill="#262626">ec</text><text transform="translate(487.61 383.00) scale(0.5476 1.0000)" font-size="19.04" fill="#262626">T</text><text transform="translate(493.98 383.00) scale(0.6681 1.3022)" font-size="19.04" fill="#262626">r</text><text transform="translate(498.21 383.00) scale(0.5476 1.0000)" font-size="19.04" fill="#262626">I</text><text transform="translate(501.11 383.00) scale(0.6681 1.3022)" font-size="19.04" fill="#262626">ca</text><text transform="translate(514.55 383.00) scale(0.5476 1.0000)" font-size="19.04" fill="#262626">L</text></g>
<g><text transform="translate(462.46 404.40) scale(0.6756 1.3022)" font-size="18.90" fill="#262626">c</text><text transform="translate(468.84 404.40) scale(0.5538 1.0000)" font-size="18.90" fill="#262626">I</text><text transform="translate(471.75 404.40) scale(0.6756 1.3022)" font-size="18.90" fill="#262626">rc</text><text transform="translate(482.38 404.40) scale(0.5538 1.0000)" font-size="18.90" fill="#262626">UIT</text></g>
<g><text transform="translate(607.38 358.00) scale(0.5213 1.0000)" font-size="18.75" fill="#262626" word-spacing="4.517">A D</text><text transform="translate(626.03 358.00) scale(0.6359 1.3022)" font-size="18.75" fill="#262626">e</text><text transform="translate(632.66 358.00) scale(0.5213 1.0000)" font-size="18.75" fill="#262626">VI</text><text transform="translate(641.89 358.00) scale(0.6359 1.3022)" font-size="18.75" fill="#262626">ce</text><text transform="translate(654.49 358.00) scale(0.5213 1.0000)" font-size="18.75" fill="#262626" word-spacing="4.517"> US</text><text transform="translate(673.14 358.00) scale(0.6359 1.3022)" font-size="18.75" fill="#262626">e</text><text transform="translate(679.77 358.00) scale(0.5213 1.0000)" font-size="18.75" fill="#262626" word-spacing="4.517">D TO</text></g>
<g><text transform="translate(618.75 379.60) scale(0.5527 1.0000)" font-size="18.75" fill="#262626">M</text><text transform="translate(627.38 379.60) scale(0.6743 1.3022)" font-size="18.75" fill="#262626">ea</text><text transform="translate(641.45 379.60) scale(0.5527 1.0000)" font-size="18.75" fill="#262626">SU</text><text transform="translate(655.84 379.60) scale(0.6743 1.3022)" font-size="18.75" fill="#262626">re</text><text transform="translate(667.08 379.60) scale(0.5527 1.0000)" font-size="18.75" fill="#262626" word-spacing="4.261"> TH</text><text transform="translate(686.13 379.60) scale(0.6743 1.3022)" font-size="18.75" fill="#262626">e</text></g>
<g><text transform="translate(598.04 401.00) scale(0.7008 1.3022)" font-size="18.75" fill="#262626">c</text><text transform="translate(604.61 401.00) scale(0.5744 1.0000)" font-size="18.75" fill="#262626">U</text><text transform="translate(612.39 401.00) scale(0.7008 1.3022)" font-size="18.75" fill="#262626">rren</text><text transform="translate(635.76 401.00) scale(0.5744 1.0000)" font-size="18.75" fill="#262626" word-spacing="4.099">T I</text><text transform="translate(650.68 401.00) scale(0.7008 1.3022)" font-size="18.75" fill="#262626">n</text><text transform="translate(657.99 401.00) scale(0.5744 1.0000)" font-size="18.75" fill="#262626" word-spacing="4.099"> </text><text transform="translate(663.33 401.00) scale(0.7008 1.3022)" font-size="18.75" fill="#262626">a</text><text transform="translate(670.64 401.00) scale(0.5744 1.0000)" font-size="18.75" fill="#262626" word-spacing="4.099"> </text><text transform="translate(675.99 401.00) scale(0.7008 1.3022)" font-size="18.75" fill="#262626">c</text><text transform="translate(682.56 401.00) scale(0.5744 1.0000)" font-size="18.75" fill="#262626">I</text><text transform="translate(685.55 401.00) scale(0.7008 1.3022)" font-size="18.75" fill="#262626">rc</text><text transform="translate(696.50 401.00) scale(0.5744 1.0000)" font-size="18.75" fill="#262626">UIT</text></g>
<g><text transform="translate(85.79 519.00) scale(0.5290 1.0000)" font-size="18.75" fill="#262626">R</text><text transform="translate(92.95 519.00) scale(0.6454 1.3022)" font-size="18.75" fill="#262626">e</text><text transform="translate(99.68 519.00) scale(0.5290 1.0000)" font-size="18.75" fill="#262626">SIST</text><text transform="translate(121.73 519.00) scale(0.6454 1.3022)" font-size="18.75" fill="#262626">ance</text><text transform="translate(147.97 519.00) scale(0.5290 1.0000)" font-size="18.75" fill="#262626" word-spacing="4.451"> IS</text></g>
<g><text transform="translate(85.14 540.60) scale(0.5593 1.0000)" font-size="18.75" fill="#262626">M</text><text transform="translate(93.88 540.60) scale(0.6823 1.3022)" font-size="18.75" fill="#262626">ea</text><text transform="translate(108.11 540.60) scale(0.5593 1.0000)" font-size="18.75" fill="#262626">SU</text><text transform="translate(122.67 540.60) scale(0.6823 1.3022)" font-size="18.75" fill="#262626">re</text><text transform="translate(134.05 540.60) scale(0.5593 1.0000)" font-size="18.75" fill="#262626" word-spacing="4.210"> I</text><text transform="translate(142.23 540.60) scale(0.6823 1.3022)" font-size="18.75" fill="#262626">n</text><text transform="translate(149.35 540.60) scale(0.5593 1.0000)" font-size="18.75" fill="#262626" word-spacing="4.210"> ...</text></g>
<g><text transform="translate(246.49 510.00) scale(0.6306 1.3022)" font-size="19.04" fill="#262626">can</text><text transform="translate(265.85 510.00) scale(0.5169 1.0000)" font-size="19.04" fill="#262626" word-spacing="4.626"> SLOW TH</text><text transform="translate(318.20 510.00) scale(0.6306 1.3022)" font-size="19.04" fill="#262626">e</text><text transform="translate(324.88 510.00) scale(0.5169 1.0000)" font-size="19.04" fill="#262626" word-spacing="4.626"> FLOW</text></g>
<g><text transform="translate(271.52 531.40) scale(0.5467 1.0000)" font-size="18.60" fill="#262626" word-spacing="4.274">OF </text><text transform="translate(290.80 531.40) scale(0.6669 1.3022)" font-size="18.60" fill="#262626">c</text><text transform="translate(297.01 531.40) scale(0.5467 1.0000)" font-size="18.60" fill="#262626">U</text><text transform="translate(304.35 531.40) scale(0.6669 1.3022)" font-size="18.60" fill="#262626">rren</text><text transform="translate(326.42 531.40) scale(0.5467 1.0000)" font-size="18.60" fill="#262626">T</text></g>
<g><text transform="translate(250.77 553.00) scale(0.5529 1.0000)" font-size="18.75" fill="#262626">TH</text><text transform="translate(264.59 553.00) scale(0.6745 1.3022)" font-size="18.75" fill="#262626">r</text><text transform="translate(268.80 553.00) scale(0.5529 1.0000)" font-size="18.75" fill="#262626" word-spacing="4.259">OUGH </text><text transform="translate(305.13 553.00) scale(0.6745 1.3022)" font-size="18.75" fill="#262626">a</text><text transform="translate(312.17 553.00) scale(0.5529 1.0000)" font-size="18.75" fill="#262626" word-spacing="4.259"> </text><text transform="translate(317.40 553.00) scale(0.6745 1.3022)" font-size="18.75" fill="#262626">c</text><text transform="translate(323.72 553.00) scale(0.5529 1.0000)" font-size="18.75" fill="#262626">I</text><text transform="translate(326.60 553.00) scale(0.6745 1.3022)" font-size="18.75" fill="#262626">rc</text><text transform="translate(337.14 553.00) scale(0.5529 1.0000)" font-size="18.75" fill="#262626">UIT</text></g>
<g><text transform="translate(453.96 513.40) scale(0.4974 1.0000)" font-size="18.90" fill="#262626">VOLT</text><text transform="translate(478.50 513.40) scale(0.6068 1.3022)" font-size="18.90" fill="#262626">a</text><text transform="translate(484.88 513.40) scale(0.4974 1.0000)" font-size="18.90" fill="#262626">G</text><text transform="translate(492.19 513.40) scale(0.6068 1.3022)" font-size="18.90" fill="#262626">e</text><text transform="translate(498.57 513.40) scale(0.4974 1.0000)" font-size="18.90" fill="#262626" word-spacing="4.771"> IS</text></g>
<g><text transform="translate(440.13 535.00) scale(0.5637 1.0000)" font-size="18.75" fill="#262626">M</text><text transform="translate(448.94 535.00) scale(0.6877 1.3022)" font-size="18.75" fill="#262626">ea</text><text transform="translate(463.28 535.00) scale(0.5637 1.0000)" font-size="18.75" fill="#262626">SU</text><text transform="translate(477.96 535.00) scale(0.6877 1.3022)" font-size="18.75" fill="#262626">re</text><text transform="translate(489.43 535.00) scale(0.5637 1.0000)" font-size="18.75" fill="#262626" word-spacing="4.177">D I</text><text transform="translate(505.29 535.00) scale(0.6877 1.3022)" font-size="18.75" fill="#262626">n</text><text transform="translate(512.46 535.00) scale(0.5637 1.0000)" font-size="18.75" fill="#262626" word-spacing="4.177"> ...</text></g>
<g transform="translate(-0.55 0)"><g><text transform="translate(626.12 513.30) scale(0.5651 1.0000)" font-size="24.42" fill="#111" letter-spacing="1.770">FI</text><text transform="translate(640.38 513.30) scale(0.6894 1.3022)" font-size="24.42" fill="#111" letter-spacing="1.451">n</text><text transform="translate(650.74 513.30) scale(0.5651 1.0000)" font-size="24.42" fill="#111" letter-spacing="1.770">ISH</text><text transform="translate(676.74 513.30) scale(0.6894 1.3022)" font-size="24.42" fill="#111" letter-spacing="1.451">e</text><text transform="translate(687.11 513.30) scale(0.5651 1.0000)" font-size="24.42" fill="#111" letter-spacing="1.770">D!</text></g></g><g transform="translate(0.55 0)"><g><text transform="translate(626.12 513.30) scale(0.5651 1.0000)" font-size="24.42" fill="#111" letter-spacing="1.770">FI</text><text transform="translate(640.38 513.30) scale(0.6894 1.3022)" font-size="24.42" fill="#111" letter-spacing="1.451">n</text><text transform="translate(650.74 513.30) scale(0.5651 1.0000)" font-size="24.42" fill="#111" letter-spacing="1.770">ISH</text><text transform="translate(676.74 513.30) scale(0.6894 1.3022)" font-size="24.42" fill="#111" letter-spacing="1.451">e</text><text transform="translate(687.11 513.30) scale(0.5651 1.0000)" font-size="24.42" fill="#111" letter-spacing="1.770">D!</text></g></g><g transform="translate(0 -0.3)"><g><text transform="translate(626.12 513.30) scale(0.5651 1.0000)" font-size="24.42" fill="#111" letter-spacing="1.770">FI</text><text transform="translate(640.38 513.30) scale(0.6894 1.3022)" font-size="24.42" fill="#111" letter-spacing="1.451">n</text><text transform="translate(650.74 513.30) scale(0.5651 1.0000)" font-size="24.42" fill="#111" letter-spacing="1.770">ISH</text><text transform="translate(676.74 513.30) scale(0.6894 1.3022)" font-size="24.42" fill="#111" letter-spacing="1.451">e</text><text transform="translate(687.11 513.30) scale(0.5651 1.0000)" font-size="24.42" fill="#111" letter-spacing="1.770">D!</text></g></g><g transform="translate(0 0.3)"><g><text transform="translate(626.12 513.30) scale(0.5651 1.0000)" font-size="24.42" fill="#111" letter-spacing="1.770">FI</text><text transform="translate(640.38 513.30) scale(0.6894 1.3022)" font-size="24.42" fill="#111" letter-spacing="1.451">n</text><text transform="translate(650.74 513.30) scale(0.5651 1.0000)" font-size="24.42" fill="#111" letter-spacing="1.770">ISH</text><text transform="translate(676.74 513.30) scale(0.6894 1.3022)" font-size="24.42" fill="#111" letter-spacing="1.451">e</text><text transform="translate(687.11 513.30) scale(0.5651 1.0000)" font-size="24.42" fill="#111" letter-spacing="1.770">D!</text></g></g><g transform="translate(0 0)"><g><text transform="translate(626.12 513.30) scale(0.5651 1.0000)" font-size="24.42" fill="#111" letter-spacing="1.770">FI</text><text transform="translate(640.38 513.30) scale(0.6894 1.3022)" font-size="24.42" fill="#111" letter-spacing="1.451">n</text><text transform="translate(650.74 513.30) scale(0.5651 1.0000)" font-size="24.42" fill="#111" letter-spacing="1.770">ISH</text><text transform="translate(676.74 513.30) scale(0.6894 1.3022)" font-size="24.42" fill="#111" letter-spacing="1.451">e</text><text transform="translate(687.11 513.30) scale(0.5651 1.0000)" font-size="24.42" fill="#111" letter-spacing="1.770">D!</text></g></g>
<g><text transform="translate(188.38 227.00) scale(0.6430 1.3022)" font-size="15.41" fill="#262626">e</text><text transform="translate(193.89 227.00) scale(0.5271 1.0000)" font-size="15.41" fill="#262626">L</text><text transform="translate(198.41 227.00) scale(0.6430 1.3022)" font-size="15.41" fill="#262626">ec</text><text transform="translate(208.87 227.00) scale(0.5271 1.0000)" font-size="15.41" fill="#262626">T</text><text transform="translate(213.83 227.00) scale(0.6430 1.3022)" font-size="15.41" fill="#262626">r</text><text transform="translate(217.13 227.00) scale(0.5271 1.0000)" font-size="15.41" fill="#262626">O</text><text transform="translate(223.45 227.00) scale(0.6430 1.3022)" font-size="15.41" fill="#262626">n</text><text transform="translate(228.96 227.00) scale(0.5271 1.0000)" font-size="15.41" fill="#262626">S</text></g>
<g><text transform="translate(378.57 230.00) scale(0.4749 1.0000)" font-size="15.26" fill="#262626">VOLTS</text></g>
<g><text transform="translate(543.58 233.00) scale(0.6369 1.3022)" font-size="15.41" fill="#262626">c</text><text transform="translate(548.49 233.00) scale(0.5220 1.0000)" font-size="15.41" fill="#262626">O</text><text transform="translate(554.75 233.00) scale(0.6369 1.3022)" font-size="15.41" fill="#262626">n</text><text transform="translate(560.20 233.00) scale(0.5220 1.0000)" font-size="15.41" fill="#262626">DU</text><text transform="translate(571.82 233.00) scale(0.6369 1.3022)" font-size="15.41" fill="#262626">c</text><text transform="translate(576.73 233.00) scale(0.5220 1.0000)" font-size="15.41" fill="#262626">TO</text><text transform="translate(587.90 233.00) scale(0.6369 1.3022)" font-size="15.41" fill="#262626">r</text></g>
<g><text transform="translate(190.97 378.00) scale(0.5108 1.0000)" font-size="15.41" fill="#262626">VOLTM</text><text transform="translate(218.08 378.00) scale(0.6232 1.3022)" font-size="15.41" fill="#262626">e</text><text transform="translate(223.42 378.00) scale(0.5108 1.0000)" font-size="15.41" fill="#262626">T</text><text transform="translate(228.22 378.00) scale(0.6232 1.3022)" font-size="15.41" fill="#262626">er</text></g>
<g><text transform="translate(379.37 379.20) scale(0.4790 1.0000)" font-size="15.26" fill="#262626">VOLTS</text></g>
<g><text transform="translate(546.18 382.00) scale(0.6369 1.3022)" font-size="15.41" fill="#262626">c</text><text transform="translate(551.09 382.00) scale(0.5220 1.0000)" font-size="15.41" fill="#262626">O</text><text transform="translate(557.35 382.00) scale(0.6369 1.3022)" font-size="15.41" fill="#262626">n</text><text transform="translate(562.80 382.00) scale(0.5220 1.0000)" font-size="15.41" fill="#262626">DU</text><text transform="translate(574.42 382.00) scale(0.6369 1.3022)" font-size="15.41" fill="#262626">c</text><text transform="translate(579.33 382.00) scale(0.5220 1.0000)" font-size="15.41" fill="#262626">TO</text><text transform="translate(590.50 382.00) scale(0.6369 1.3022)" font-size="15.41" fill="#262626">r</text></g>
<g><text transform="translate(203.32 528.90) scale(0.5252 1.0000)" font-size="15.26" fill="#262626">OHMS</text></g>
<g><text transform="translate(367.98 530.80) scale(0.6396 1.3022)" font-size="15.41" fill="#262626">c</text><text transform="translate(372.91 530.80) scale(0.5243 1.0000)" font-size="15.41" fill="#262626">O</text><text transform="translate(379.19 530.80) scale(0.6396 1.3022)" font-size="15.41" fill="#262626">n</text><text transform="translate(384.67 530.80) scale(0.5243 1.0000)" font-size="15.41" fill="#262626">DU</text><text transform="translate(396.34 530.80) scale(0.6396 1.3022)" font-size="15.41" fill="#262626">c</text><text transform="translate(401.27 530.80) scale(0.5243 1.0000)" font-size="15.41" fill="#262626">TO</text><text transform="translate(412.48 530.80) scale(0.6396 1.3022)" font-size="15.41" fill="#262626">r</text></g>
<g><text transform="translate(553.98 533.00) scale(0.5716 1.0000)" font-size="15.41" fill="#262626">OHMS</text></g>
<g><text transform="translate(100.95 300.70) scale(0.5204 1.0000)" font-size="15.26" fill="#262626">P</text><text transform="translate(106.25 300.70) scale(0.6349 1.3022)" font-size="15.26" fill="#262626">r</text><text transform="translate(109.47 300.70) scale(0.5204 1.0000)" font-size="15.26" fill="#262626">OTO</text><text transform="translate(126.68 300.70) scale(0.6349 1.3022)" font-size="15.26" fill="#262626">n</text><text transform="translate(132.07 300.70) scale(0.5204 1.0000)" font-size="15.26" fill="#262626">S</text></g>
<g><text transform="translate(281.46 301.90) scale(0.6734 1.3022)" font-size="15.26" fill="#262626">a</text><text transform="translate(287.18 301.90) scale(0.5519 1.0000)" font-size="15.26" fill="#262626">MP</text><text transform="translate(299.81 301.90) scale(0.6734 1.3022)" font-size="15.26" fill="#262626">ere</text><text transform="translate(314.67 301.90) scale(0.5519 1.0000)" font-size="15.26" fill="#262626">S</text></g>
<g><text transform="translate(463.54 301.80) scale(0.5254 1.0000)" font-size="15.26" fill="#262626">B</text><text transform="translate(468.89 301.80) scale(0.6410 1.3022)" font-size="15.26" fill="#262626">a</text><text transform="translate(474.33 301.80) scale(0.5254 1.0000)" font-size="15.26" fill="#262626">TT</text><text transform="translate(484.13 301.80) scale(0.6410 1.3022)" font-size="15.26" fill="#262626">er</text><text transform="translate(492.83 301.80) scale(0.5254 1.0000)" font-size="15.26" fill="#262626">Y</text></g>
<g><text transform="translate(647.31 303.00) scale(0.5458 1.0000)" font-size="15.26" fill="#262626">T</text><text transform="translate(652.40 303.00) scale(0.6658 1.3022)" font-size="15.26" fill="#262626">r</text><text transform="translate(655.78 303.00) scale(0.5458 1.0000)" font-size="15.26" fill="#262626">U</text><text transform="translate(661.80 303.00) scale(0.6658 1.3022)" font-size="15.26" fill="#262626">e</text></g>
<g><text transform="translate(106.13 451.00) scale(0.5306 1.0000)" font-size="15.26" fill="#262626">SWIT</text><text transform="translate(126.37 451.00) scale(0.6473 1.3022)" font-size="15.26" fill="#262626">c</text><text transform="translate(131.31 451.00) scale(0.5306 1.0000)" font-size="15.26" fill="#262626">H</text></g>
<g><text transform="translate(286.43 451.30) scale(0.5393 1.0000)" font-size="15.12" fill="#262626">SWIT</text><text transform="translate(306.81 451.30) scale(0.6579 1.3022)" font-size="15.12" fill="#262626">c</text><text transform="translate(311.78 451.30) scale(0.5393 1.0000)" font-size="15.12" fill="#262626">H</text></g>
<g><text transform="translate(463.64 452.40) scale(0.5285 1.0000)" font-size="15.12" fill="#262626">SWIT</text><text transform="translate(483.61 452.40) scale(0.6448 1.3022)" font-size="15.12" fill="#262626">c</text><text transform="translate(488.48 452.40) scale(0.5285 1.0000)" font-size="15.12" fill="#262626">H</text></g>
<g><text transform="translate(636.57 453.00) scale(0.6578 1.3022)" font-size="15.41" fill="#262626">a</text><text transform="translate(642.21 453.00) scale(0.5392 1.0000)" font-size="15.41" fill="#262626">MM</text><text transform="translate(656.05 453.00) scale(0.6578 1.3022)" font-size="15.41" fill="#262626">e</text><text transform="translate(661.68 453.00) scale(0.5392 1.0000)" font-size="15.41" fill="#262626">T</text><text transform="translate(666.76 453.00) scale(0.6578 1.3022)" font-size="15.41" fill="#262626">er</text></g>
<g transform="rotate(44 211.60 294.20)"><text transform="translate(190.45 299.40) scale(0.6497 1.3022)" font-size="15.12" fill="#262626">ne</text><text transform="translate(201.37 299.40) scale(0.5326 1.0000)" font-size="15.12" fill="#262626">UT</text><text transform="translate(212.10 299.40) scale(0.6497 1.3022)" font-size="15.12" fill="#262626">r</text><text transform="translate(215.38 299.40) scale(0.5326 1.0000)" font-size="15.12" fill="#262626">O</text><text transform="translate(221.64 299.40) scale(0.6497 1.3022)" font-size="15.12" fill="#262626">n</text><text transform="translate(227.10 299.40) scale(0.5326 1.0000)" font-size="15.12" fill="#262626">S</text></g>
<g transform="rotate(44.5 393.60 302.00)"><text transform="translate(380.95 307.20) scale(0.5576 1.0000)" font-size="15.12" fill="#262626">OHMS</text></g>
<g transform="rotate(44 571.80 302.80)"><text transform="translate(549.80 308.00) scale(0.5342 1.0000)" font-size="15.12" fill="#262626">I</text><text transform="translate(552.05 308.00) scale(0.6518 1.3022)" font-size="15.12" fill="#262626">n</text><text transform="translate(557.53 308.00) scale(0.5342 1.0000)" font-size="15.12" fill="#262626">SUL</text><text transform="translate(573.24 308.00) scale(0.6518 1.3022)" font-size="15.12" fill="#262626">a</text><text transform="translate(578.72 308.00) scale(0.5342 1.0000)" font-size="15.12" fill="#262626">TO</text><text transform="translate(589.93 308.00) scale(0.6518 1.3022)" font-size="15.12" fill="#262626">r</text></g>
<g transform="rotate(-45 216.50 445.50)"><text transform="translate(197.08 450.70) scale(0.6600 1.3022)" font-size="15.12" fill="#262626">a</text><text transform="translate(202.63 450.70) scale(0.5410 1.0000)" font-size="15.12" fill="#262626">MM</text><text transform="translate(216.25 450.70) scale(0.6600 1.3022)" font-size="15.12" fill="#262626">e</text><text transform="translate(221.80 450.70) scale(0.5410 1.0000)" font-size="15.12" fill="#262626">T</text><text transform="translate(226.79 450.70) scale(0.6600 1.3022)" font-size="15.12" fill="#262626">er</text></g>
<g transform="rotate(-45 389.40 452.40)"><text transform="translate(370.74 457.60) scale(0.6618 1.3022)" font-size="15.12" fill="#262626">re</text><text transform="translate(379.63 457.60) scale(0.5424 1.0000)" font-size="15.12" fill="#262626">SISTO</text><text transform="translate(404.23 457.60) scale(0.6618 1.3022)" font-size="15.12" fill="#262626">r</text></g>
<g transform="rotate(-45.5 566.00 456.00)"><text transform="translate(542.97 461.20) scale(0.5252 1.0000)" font-size="15.12" fill="#262626">VOLTM</text><text transform="translate(570.31 461.20) scale(0.6407 1.3022)" font-size="15.12" fill="#262626">e</text><text transform="translate(575.70 461.20) scale(0.5252 1.0000)" font-size="15.12" fill="#262626">T</text><text transform="translate(580.55 461.20) scale(0.6407 1.3022)" font-size="15.12" fill="#262626">er</text></g>
</g>
<path d="M649.75,524.25 L648.57,523.92 L647.39,523.61 L646.23,523.36 L645.09,523.18 L643.98,523.10 L642.91,523.13 L641.87,523.28 L640.87,523.56 L639.92,523.97 L639.00,524.50 L638.11,525.15 L637.26,525.90 L636.43,526.74 L635.62,527.63 L634.82,528.56 L634.02,529.49 L633.21,530.41 L632.40,531.28 L631.56,532.08 L630.69,532.79 L629.79,533.40 L628.86,533.89 L627.89,534.25 L626.87,534.48 L625.82,534.58 L624.73,534.56 L623.61,534.44 L622.47,534.23 L621.30,533.96 L620.12,533.64 L620.42,534.30 L620.72,534.96 L621.02,535.62 L621.32,536.28 L621.62,536.94 L621.92,537.61 L622.22,538.27 L622.53,538.93 L622.83,539.59 L623.13,540.25 L623.43,540.91 L623.73,541.57 L624.03,542.23 L624.33,542.90 L624.63,543.56 L624.93,544.22 L625.23,544.88 L625.53,545.54 L625.84,546.20 L626.14,546.86 L626.44,547.52 L626.74,548.19 L627.04,548.85 L627.34,549.51 L627.64,550.17 L627.94,550.83 L628.24,551.49 L628.54,552.15 L628.84,552.81 L629.14,553.47 L630.28,553.96 L631.39,554.39 L632.48,554.73 L633.54,554.97 L634.55,555.09 L635.53,555.05 L636.45,554.86 L637.33,554.51 L638.16,554.01 L638.95,553.36 L639.69,552.58 L640.41,551.69 L641.09,550.72 L641.76,549.69 L642.43,548.64 L643.09,547.60 L643.77,546.60 L644.48,545.67 L645.21,544.85 L645.98,544.14 L646.79,543.58 L647.65,543.17 L648.56,542.92 L649.51,542.83 L650.51,542.88 L651.55,543.08 L652.63,543.39 L653.74,543.79 L654.86,544.25 L656.00,544.75Z" fill="#fff" stroke="#111" stroke-width="0.5"/>
<path d="M651.00,528.35 L649.83,527.99 L648.66,527.65 L647.51,527.37 L646.38,527.16 L645.29,527.06 L645.55,527.85 L645.81,528.64 L646.07,529.43 L646.33,530.22 L646.59,531.01 L647.68,531.14 L648.79,531.37 L649.93,531.68 L651.09,532.05 L652.25,532.45 L652.00,531.63 L651.75,530.81 L651.50,529.99 L651.25,529.17Z M653.50,536.55 L652.35,536.12 L651.20,535.72 L650.07,535.38 L648.97,535.12 L647.90,534.97 L648.16,535.76 L648.42,536.55 L648.68,537.34 L648.95,538.14 L649.21,538.93 L650.26,539.10 L651.35,539.38 L652.47,539.75 L653.60,540.19 L654.75,540.65 L654.50,539.83 L654.25,539.01 L654.00,538.19 L653.75,537.37Z M643.98,523.10 L642.91,523.13 L641.87,523.28 L640.87,523.56 L639.92,523.97 L639.00,524.50 L639.28,525.29 L639.55,526.07 L639.83,526.86 L640.11,527.65 L640.39,528.43 L641.29,527.89 L642.23,527.48 L643.21,527.21 L644.23,527.07 L645.29,527.06 L645.03,526.26 L644.77,525.47 L644.51,524.68 L644.24,523.89Z M646.59,531.01 L645.55,531.01 L644.55,531.14 L643.58,531.40 L642.67,531.81 L641.79,532.36 L642.07,533.14 L642.35,533.93 L642.63,534.72 L642.91,535.50 L643.18,536.29 L644.04,535.74 L644.94,535.33 L645.88,535.06 L646.87,534.95 L647.90,534.97 L647.64,534.18 L647.38,533.39 L647.12,532.60 L646.86,531.80Z M649.21,538.93 L648.19,538.89 L647.22,538.99 L646.29,539.25 L645.41,539.66 L644.58,540.22 L644.86,541.00 L645.14,541.79 L645.42,542.57 L645.70,543.36 L645.98,544.14 L646.79,543.58 L647.65,543.17 L648.56,542.92 L649.51,542.83 L650.51,542.88 L650.25,542.09 L649.99,541.30 L649.73,540.51 L649.47,539.72Z M640.39,528.43 L639.53,529.09 L638.70,529.86 L637.90,530.71 L637.11,531.62 L636.34,532.57 L636.64,533.38 L636.95,534.18 L637.25,534.98 L637.56,535.78 L637.86,536.59 L638.61,535.62 L639.37,534.68 L640.14,533.81 L640.95,533.03 L641.79,532.36 L641.51,531.57 L641.23,530.79 L640.95,530.00 L640.67,529.22Z M643.18,536.29 L642.37,536.97 L641.59,537.77 L640.84,538.65 L640.10,539.61 L639.38,540.60 L639.69,541.41 L639.99,542.21 L640.30,543.01 L640.60,543.82 L640.91,544.62 L641.60,543.60 L642.30,542.63 L643.03,541.72 L643.79,540.91 L644.58,540.22 L644.30,539.43 L644.02,538.64 L643.74,537.86 L643.46,537.07Z M634.82,528.56 L634.02,529.49 L633.21,530.41 L632.40,531.28 L631.56,532.08 L630.69,532.79 L631.02,533.62 L631.35,534.44 L631.68,535.26 L632.01,536.09 L632.34,536.91 L633.19,536.18 L634.00,535.36 L634.79,534.47 L635.57,533.53 L636.34,532.57 L636.03,531.77 L635.73,530.97 L635.42,530.16 L635.12,529.36Z M637.86,536.59 L637.12,537.57 L636.37,538.53 L635.60,539.44 L634.81,540.28 L633.99,541.02 L634.33,541.84 L634.66,542.67 L634.99,543.49 L635.32,544.31 L635.65,545.13 L636.44,544.38 L637.20,543.52 L637.94,542.59 L638.67,541.61 L639.38,540.60 L639.08,539.80 L638.77,539.00 L638.47,538.19 L638.16,537.39Z M640.91,544.62 L640.21,545.65 L639.52,546.65 L638.80,547.61 L638.07,548.48 L637.30,549.25 L637.63,550.07 L637.96,550.89 L638.29,551.72 L638.62,552.54 L638.95,553.36 L639.69,552.58 L640.41,551.69 L641.09,550.72 L641.76,549.69 L642.43,548.64 L642.12,547.83 L641.82,547.03 L641.51,546.23 L641.21,545.42Z M632.34,536.91 L631.47,537.52 L630.55,538.01 L629.60,538.37 L628.60,538.59 L627.57,538.68 L627.92,539.50 L628.27,540.32 L628.62,541.14 L628.97,541.96 L629.31,542.78 L630.34,542.71 L631.31,542.49 L632.25,542.14 L633.14,541.65 L633.99,541.02 L633.66,540.20 L633.33,539.38 L633.00,538.55 L632.67,537.73Z M635.65,545.13 L634.82,545.77 L633.94,546.26 L633.03,546.62 L632.07,546.82 L631.06,546.88 L631.41,547.70 L631.76,548.52 L632.11,549.34 L632.46,550.16 L632.81,550.98 L633.80,550.94 L634.74,550.74 L635.64,550.39 L636.49,549.89 L637.30,549.25 L636.97,548.42 L636.64,547.60 L636.31,546.78 L635.98,545.96Z M625.82,534.58 L624.73,534.56 L623.61,534.44 L622.47,534.23 L621.30,533.96 L620.12,533.64 L620.48,534.43 L620.84,535.23 L621.20,536.02 L621.56,536.81 L621.92,537.61 L623.09,537.96 L624.25,538.26 L625.39,538.50 L626.49,538.65 L627.57,538.68 L627.22,537.86 L626.87,537.04 L626.52,536.22 L626.17,535.40Z M629.31,542.78 L628.25,542.73 L627.16,542.56 L626.04,542.29 L624.89,541.96 L623.73,541.57 L624.09,542.37 L624.45,543.16 L624.81,543.95 L625.17,544.75 L625.53,545.54 L626.68,545.96 L627.82,546.32 L628.93,546.62 L630.02,546.81 L631.06,546.88 L630.71,546.06 L630.36,545.24 L630.01,544.42 L629.66,543.60Z M632.81,550.98 L631.78,550.89 L630.71,550.68 L629.61,550.35 L628.48,549.96 L627.34,549.51 L627.70,550.30 L628.06,551.09 L628.42,551.89 L628.78,552.68 L629.14,553.47 L630.28,553.96 L631.39,554.39 L632.48,554.73 L633.54,554.97 L634.55,555.09 L634.21,554.27 L633.86,553.45 L633.51,552.62 L633.16,551.80Z" fill="#000"/>
<line x1="649.25" y1="523.50" x2="667.00" y2="565.00" stroke="#000" stroke-width="1.3" stroke-linecap="round"/>
<path d="M674.05,524.25 L675.23,523.92 L676.41,523.61 L677.57,523.36 L678.71,523.18 L679.82,523.10 L680.89,523.13 L681.93,523.28 L682.93,523.56 L683.88,523.97 L684.80,524.50 L685.69,525.15 L686.54,525.90 L687.37,526.74 L688.18,527.63 L688.98,528.56 L689.78,529.49 L690.59,530.41 L691.40,531.28 L692.24,532.08 L693.11,532.79 L694.01,533.40 L694.94,533.89 L695.91,534.25 L696.93,534.48 L697.98,534.58 L699.07,534.56 L700.19,534.44 L701.33,534.23 L702.50,533.96 L703.68,533.64 L703.38,534.30 L703.08,534.96 L702.78,535.62 L702.48,536.28 L702.18,536.94 L701.88,537.61 L701.58,538.27 L701.27,538.93 L700.97,539.59 L700.67,540.25 L700.37,540.91 L700.07,541.57 L699.77,542.23 L699.47,542.90 L699.17,543.56 L698.87,544.22 L698.57,544.88 L698.27,545.54 L697.96,546.20 L697.66,546.86 L697.36,547.52 L697.06,548.19 L696.76,548.85 L696.46,549.51 L696.16,550.17 L695.86,550.83 L695.56,551.49 L695.26,552.15 L694.96,552.81 L694.66,553.47 L693.52,553.96 L692.41,554.39 L691.32,554.73 L690.26,554.97 L689.25,555.09 L688.27,555.05 L687.35,554.86 L686.47,554.51 L685.64,554.01 L684.85,553.36 L684.11,552.58 L683.39,551.69 L682.71,550.72 L682.04,549.69 L681.37,548.64 L680.71,547.60 L680.03,546.60 L679.32,545.67 L678.59,544.85 L677.82,544.14 L677.01,543.58 L676.15,543.17 L675.24,542.92 L674.29,542.83 L673.29,542.88 L672.25,543.08 L671.17,543.39 L670.06,543.79 L668.94,544.25 L667.80,544.75Z" fill="#fff" stroke="#111" stroke-width="0.5"/>
<path d="M672.80,528.35 L673.97,527.99 L675.14,527.65 L676.29,527.37 L677.42,527.16 L678.51,527.06 L678.25,527.85 L677.99,528.64 L677.73,529.43 L677.47,530.22 L677.21,531.01 L676.12,531.14 L675.01,531.37 L673.87,531.68 L672.71,532.05 L671.55,532.45 L671.80,531.63 L672.05,530.81 L672.30,529.99 L672.55,529.17Z M670.30,536.55 L671.45,536.12 L672.60,535.72 L673.73,535.38 L674.83,535.12 L675.90,534.97 L675.64,535.76 L675.38,536.55 L675.12,537.34 L674.85,538.14 L674.59,538.93 L673.54,539.10 L672.45,539.38 L671.33,539.75 L670.20,540.19 L669.05,540.65 L669.30,539.83 L669.55,539.01 L669.80,538.19 L670.05,537.37Z M679.82,523.10 L680.89,523.13 L681.93,523.28 L682.93,523.56 L683.88,523.97 L684.80,524.50 L684.52,525.29 L684.25,526.07 L683.97,526.86 L683.69,527.65 L683.41,528.43 L682.51,527.89 L681.57,527.48 L680.59,527.21 L679.57,527.07 L678.51,527.06 L678.77,526.26 L679.03,525.47 L679.29,524.68 L679.56,523.89Z M677.21,531.01 L678.25,531.01 L679.25,531.14 L680.22,531.40 L681.13,531.81 L682.01,532.36 L681.73,533.14 L681.45,533.93 L681.17,534.72 L680.89,535.50 L680.62,536.29 L679.76,535.74 L678.86,535.33 L677.92,535.06 L676.93,534.95 L675.90,534.97 L676.16,534.18 L676.42,533.39 L676.68,532.60 L676.94,531.80Z M674.59,538.93 L675.61,538.89 L676.58,538.99 L677.51,539.25 L678.39,539.66 L679.22,540.22 L678.94,541.00 L678.66,541.79 L678.38,542.57 L678.10,543.36 L677.82,544.14 L677.01,543.58 L676.15,543.17 L675.24,542.92 L674.29,542.83 L673.29,542.88 L673.55,542.09 L673.81,541.30 L674.07,540.51 L674.33,539.72Z M683.41,528.43 L684.27,529.09 L685.10,529.86 L685.90,530.71 L686.69,531.62 L687.46,532.57 L687.16,533.38 L686.85,534.18 L686.55,534.98 L686.24,535.78 L685.94,536.59 L685.19,535.62 L684.43,534.68 L683.66,533.81 L682.85,533.03 L682.01,532.36 L682.29,531.57 L682.57,530.79 L682.85,530.00 L683.13,529.22Z M680.62,536.29 L681.43,536.97 L682.21,537.77 L682.96,538.65 L683.70,539.61 L684.42,540.60 L684.11,541.41 L683.81,542.21 L683.50,543.01 L683.20,543.82 L682.89,544.62 L682.20,543.60 L681.50,542.63 L680.77,541.72 L680.01,540.91 L679.22,540.22 L679.50,539.43 L679.78,538.64 L680.06,537.86 L680.34,537.07Z M688.98,528.56 L689.78,529.49 L690.59,530.41 L691.40,531.28 L692.24,532.08 L693.11,532.79 L692.78,533.62 L692.45,534.44 L692.12,535.26 L691.79,536.09 L691.46,536.91 L690.61,536.18 L689.80,535.36 L689.01,534.47 L688.23,533.53 L687.46,532.57 L687.77,531.77 L688.07,530.97 L688.38,530.16 L688.68,529.36Z M685.94,536.59 L686.68,537.57 L687.43,538.53 L688.20,539.44 L688.99,540.28 L689.81,541.02 L689.47,541.84 L689.14,542.67 L688.81,543.49 L688.48,544.31 L688.15,545.13 L687.36,544.38 L686.60,543.52 L685.86,542.59 L685.13,541.61 L684.42,540.60 L684.72,539.80 L685.03,539.00 L685.33,538.19 L685.64,537.39Z M682.89,544.62 L683.59,545.65 L684.28,546.65 L685.00,547.61 L685.73,548.48 L686.50,549.25 L686.17,550.07 L685.84,550.89 L685.51,551.72 L685.18,552.54 L684.85,553.36 L684.11,552.58 L683.39,551.69 L682.71,550.72 L682.04,549.69 L681.37,548.64 L681.68,547.83 L681.98,547.03 L682.29,546.23 L682.59,545.42Z M691.46,536.91 L692.33,537.52 L693.25,538.01 L694.20,538.37 L695.20,538.59 L696.23,538.68 L695.88,539.50 L695.53,540.32 L695.18,541.14 L694.83,541.96 L694.49,542.78 L693.46,542.71 L692.49,542.49 L691.55,542.14 L690.66,541.65 L689.81,541.02 L690.14,540.20 L690.47,539.38 L690.80,538.55 L691.13,537.73Z M688.15,545.13 L688.98,545.77 L689.86,546.26 L690.77,546.62 L691.73,546.82 L692.74,546.88 L692.39,547.70 L692.04,548.52 L691.69,549.34 L691.34,550.16 L690.99,550.98 L690.00,550.94 L689.06,550.74 L688.16,550.39 L687.31,549.89 L686.50,549.25 L686.83,548.42 L687.16,547.60 L687.49,546.78 L687.82,545.96Z M697.98,534.58 L699.07,534.56 L700.19,534.44 L701.33,534.23 L702.50,533.96 L703.68,533.64 L703.32,534.43 L702.96,535.23 L702.60,536.02 L702.24,536.81 L701.88,537.61 L700.71,537.96 L699.55,538.26 L698.41,538.50 L697.31,538.65 L696.23,538.68 L696.58,537.86 L696.93,537.04 L697.28,536.22 L697.63,535.40Z M694.49,542.78 L695.55,542.73 L696.64,542.56 L697.76,542.29 L698.91,541.96 L700.07,541.57 L699.71,542.37 L699.35,543.16 L698.99,543.95 L698.63,544.75 L698.27,545.54 L697.12,545.96 L695.98,546.32 L694.87,546.62 L693.78,546.81 L692.74,546.88 L693.09,546.06 L693.44,545.24 L693.79,544.42 L694.14,543.60Z M690.99,550.98 L692.02,550.89 L693.09,550.68 L694.19,550.35 L695.32,549.96 L696.46,549.51 L696.10,550.30 L695.74,551.09 L695.38,551.89 L695.02,552.68 L694.66,553.47 L693.52,553.96 L692.41,554.39 L691.32,554.73 L690.26,554.97 L689.25,555.09 L689.59,554.27 L689.94,553.45 L690.29,552.62 L690.64,551.80Z" fill="#000"/>
<line x1="674.55" y1="523.50" x2="656.80" y2="565.00" stroke="#000" stroke-width="1.3" stroke-linecap="round"/>
<g style="will-change:transform;filter:grayscale(1)">
<g><text x="650" y="587"font-size="10.6" fill="#111" textLength="89.8" lengthAdjust="spacingAndGlyphs">© A.Richards, 2024</text></g>
</g>
<g fill="#f9b8c0"><rect x="659.6" y="136.20000000000002" width="88.2" height="88.2"/><polygon points="704,117.9 766.4,180.3 704,242.70000000000002 641.6,180.3"/></g>
<g style="will-change:transform;filter:grayscale(1)">
<g><text x="675.80" y="165.00" font-size="15.6" fill="#1a1a1a" textLength="55" lengthAdjust="spacingAndGlyphs">Answer</text></g>
<g><text x="691.00" y="186.80" font-size="15.6" fill="#1a1a1a" textLength="24.6" lengthAdjust="spacingAndGlyphs">key</text></g>
<g><text x="670.40" y="208.60" font-size="15.6" fill="#1a1a1a" textLength="65.8" lengthAdjust="spacingAndGlyphs">included</text></g>
</g>
</svg></body></html>
